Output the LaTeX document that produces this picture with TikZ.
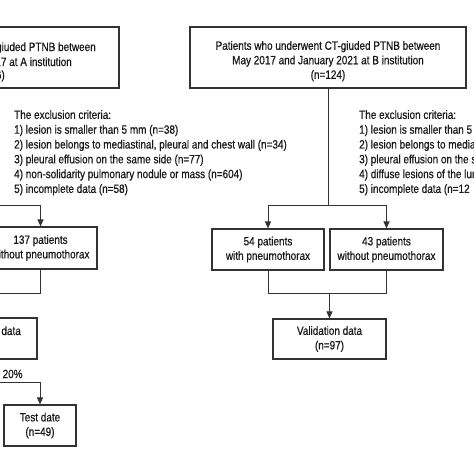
\documentclass[tikz,border=0pt]{standalone}
\usepackage{fontspec}
\setmainfont[FakeStretch=0.83,FakeBold=0.6]{Liberation Sans}
\usetikzlibrary{calc,positioning}
\usetikzlibrary{arrows.meta}

\tikzset{
  box/.style={draw=black!80, line width=1.1pt, align=center, inner sep=2pt},
  crit/.style={anchor=north west, align=left, inner sep=0pt, font=\fontsize{12}{14.8}\selectfont},
  cut/.style={anchor=base east, inner sep=0pt},
  flow/.style={draw=black!80, line width=1pt},
  arr/.style={flow, -{Triangle[length=7pt,width=6pt]}}
}

\begin{document}
\begin{tikzpicture}[x=1pt,y=-1pt,text=black!90,font=\fontsize{12}{14.5}\selectfont]
\clip (0,0) rectangle (474,474);
\coordinate (splitA) at (-19,205);
\coordinate (splitB) at (328,205);
\coordinate (mergeA) at (-19.5,293);
\coordinate (mergeB) at (329.5,293);
\coordinate (splitT) at (-19.5,382);

% top boxes
\node[box, minimum width=276pt, minimum height=61pt] (topA) at (-19,57.5) {};
\node[cut] (topAa) at (96,51) {Patients who underwent CT-giuded PTNB between};
\node[cut] (topAb) at (72,66) {2017 at A institution};
\node[cut] (topAc) at (5,79) {6)};
\node[box, minimum width=276pt, minimum height=61pt, text height=45pt] (topB) at (328,57.5)
  {Patients who underwent CT-giuded PTNB between\\May 2017 and January 2021 at B institution\\(n=124)};

% exclusion criteria
\node[crit] (exclA) at (14,110) {The exclusion criteria:\\
  1) lesion is smaller than 5 mm (n=38)\\
  2) lesion belongs to mediastinal, pleural and chest wall (n=34)\\
  3) pleural effusion on the same side (n=77)\\
  4) non-solidarity pulmonary nodule or mass (n=604)\\
  5) incomplete data (n=58)};
\node[crit] (exclB) at (359,110) {The exclusion criteria:\\
  1) lesion is smaller than 5 mm\\
  2) lesion belongs to mediastinal\\
  3) pleural effusion on the same side\\
  4) diffuse lesions of the lung\\
  5) incomplete data (n=12};

% patient groups
\node[box, minimum width=113pt, minimum height=42pt] (wo137) at (40.5,248) {137 patients\\without pneumothorax};
\node[box, minimum width=112pt, minimum height=41pt] (with54) at (268,249.5) {54 patients\\with pneumothorax};
\node[box, minimum width=113pt, minimum height=41pt] (wo43) at (386.5,249.5) {43 patients\\without pneumothorax};

% data sets
\node[box, minimum width=113pt, minimum height=41pt] (devA) at (-19.5,338.5) {};
\node[cut] (devAtxt) at (21,335) {data};
\node[box, minimum width=113pt, minimum height=40pt] (valid) at (329.5,339) {Validation data\\(n=97)};
\node[box, minimum width=72pt, minimum height=41pt] (test) at (40,425.5) {Test date\\(n=49)};

\draw[flow] (topA.south) -- (splitA);
\draw[arr] (splitA) -| (wo137.north);
\draw[flow] (topB.south) -- (splitB);
\draw[arr] (splitB) -| (with54.north);
\draw[arr] (splitB) -| (wo43.north);
\draw[flow] (wo137.south) |- (mergeA);
\draw[arr] (mergeA) -- (devA.north);
\draw[flow] (with54.south) |- (mergeB);
\draw[flow] (wo43.south) |- (mergeB);
\draw[arr] (mergeB) -- (valid.north);
\draw[flow] (devA.south) -- (splitT);
\draw[arr] (splitT) -| node[above, pos=0.27] (pct20) {20\%} (test.north);
\end{tikzpicture}
\end{document}
